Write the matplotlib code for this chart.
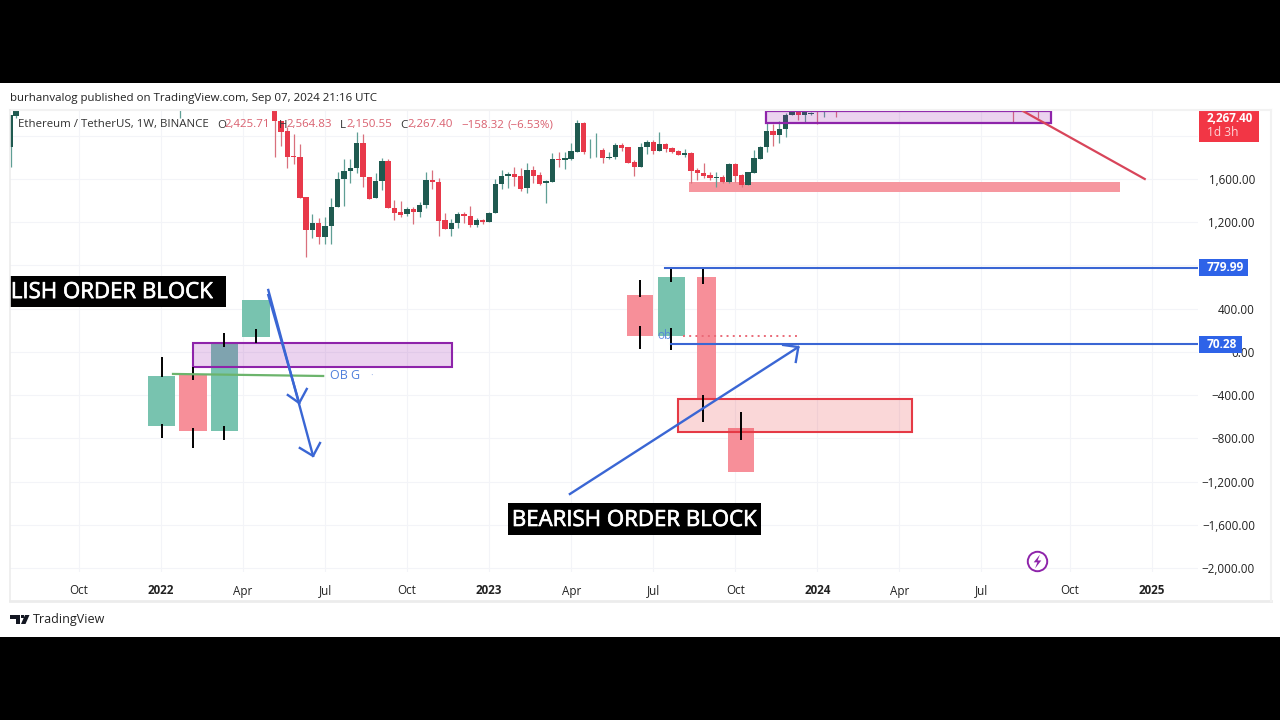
import matplotlib
matplotlib.use("Agg")
import matplotlib.pyplot as plt
import matplotlib.patheffects as pe
from matplotlib.patches import Rectangle, Polygon
from matplotlib.lines import Line2D

plt.rcParams['font.family'] = ['Open Sans', 'DejaVu Sans']

# weekly candles (x in weeks from Jan 2022)
weeks = [-23.85, -23, 3] + list(range(18, 106)) + [107, 135, 139]
opens = [1893,2186,2280,2300,2140,2044,1813,1804,1437,1125,1193,1066,1162,1341,1597,1671,1702,1933,1619,1421,1578,1767,1332,1298,1273,1325,1298,1359,
 1591,1575,1220,1134,1190,1276,1257,1177,1217,1199,1282,1550,1624,1643,1628,1513,1683,1637,1560,1575,1785,1773,1785,1853,2115,1865,1865,1868,1791,1800,1914,1896,1757,1714,1893,1942,1862,1924,1884,1859,1825,1844,1683,1655,1637,1612,1615,1572,1739,1634,1547,1658,1788,1893,2041,2010,2060,2189,2240,2195,2205,2240,2223,2260,2300,2300]
closes = [2192,2260,2400,2140,2038,1807,1807,1427,1125,1193,1066,1162,1341,1600,1674,1702,1933,1615,1418,1582,1767,1329,1288,1267,1322,1298,1359,1591,
 1571,1214,1134,1190,1273,1254,1177,1220,1199,1285,1554,1624,1646,1621,1507,1683,1628,1554,1581,1782,1779,1794,1859,2115,1850,1868,1868,1794,1800,1914,1890,1751,1714,1893,1945,1862,1924,1877,1853,1825,1837,1674,1652,1628,1612,1615,1572,1739,1628,1547,1662,1791,1896,2041,2007,2060,2192,2226,2192,2240,2208,2226,2229,2240,2250,2250]
highs = [2192,2300,2500,2400,2140,2084,2013,1921,1437,1273,1236,1251,1421,1662,1785,1785,2032,2013,1619,1652,1791,1785,1406,1396,1344,1344,1384,1662,
 1683,1606,1282,1227,1298,1298,1350,1236,1227,1291,1597,1683,1668,1708,1699,1745,1720,1668,1591,1837,1853,1853,1936,2146,2130,1967,2022,1890,1853,1930,1930,1896,1776,1936,1961,1961,2032,1936,1893,1868,1877,1853,1699,1745,1668,1668,1637,1751,1751,1646,1668,1868,1905,2115,2109,2140,2208,2300,2300,2300,2223,2300,2300,2300,2300,2300]
lows = [1714,2161,2161,1807,1908,1705,1742,1427,881,1051,1001,1001,1001,1341,1353,1560,1659,1529,1418,1421,1495,1329,1224,1251,1261,1187,1251,1329,
 1504,1075,1134,1075,1149,1196,1159,1153,1183,1199,1282,1504,1520,1535,1492,1467,1560,1544,1375,1575,1714,1689,1776,1853,1831,1791,1807,1745,1782,1782,1862,1745,1631,1708,1831,1831,1862,1853,1837,1819,1807,1566,1591,1606,1591,1529,1566,1566,1575,1523,1547,1658,1782,1853,1905,1936,1992,2189,2146,2127,2192,2106,2177,2177,2130,2161]

# pasted illustration candles: week, width, body top/bottom, upper wick, lower wick
pasted_week = [0.08, 5.07, 10.06, 15.06, 75.9, 80.9, 86.45, 91.9]
pasted_width = [4.28, 4.44, 4.28, 4.44, 4.12, 4.28, 3.0, 4.12]
pasted_top = [-223, -214, 92, 480, 526, 693, 693, -704]
pasted_bottom = [-686, -732, -732, 138, 147, 147, -445, -1111]
pasted_rising = [True, False, True, True, False, True, False, False]
wick_week = [0.08, 5.07, 10.06, 15.06, 75.9, 80.9, 85.9, 91.9]
wick_up_hi = [-47, -140, 175, 212, 665, 776, 767, -556]
wick_up_lo = [-232, -260, 45, 82, 508, 647, 628, -815]
wick_dn_hi = [-667, -704, -686, None, 240, 221, -399, None]
wick_dn_lo = [-797, -889, -815, None, 27, 18, -649, None]

# levels
level_top = 779.99
level_bottom = 70.28

# y and x axis
y_ticks = [-2000, -1600, -1200, -800, -400, 0, 400, 800, 1200, 1600, 2000]
y_labels = ['−2,000.00', '−1,600.00', '−1,200.00', '−800.00', '−400.00', '0.00', '400.00', '', '1,200.00', '1,600.00', '']
x_ticks = [-13, 0, 13, 26, 39, 52, 65, 78, 91, 104, 117, 130, 144, 157]
x_labels = ['Oct', '2022', 'Apr', 'Jul', 'Oct', '2023', 'Apr', 'Jul', 'Oct', '2024', 'Apr', 'Jul', 'Oct', '2025']

UP, DOWN = '#1f5a50', '#e8394a'
UPW, DOWNW = '#5f9f95', '#d9707d'
TEAL, SALMON = '#78c3af', '#f78f99'
BLUE = '#3a66d4'
PURPLE = '#8e24aa'

W, H = 1280, 720
fig = plt.figure(figsize=(W/100, H/100), dpi=100, facecolor='white')
ax = fig.add_axes([10/W, (H-572)/H, 1188/W, 462/H])
ax.set_xlim(-23.93, 164.34)
ax.set_ylim(-2036.8, 2238.5)
for s in ax.spines.values():
    s.set_visible(False)
ax.grid(True, color='#f3f4f8', lw=0.8)
ax.set_axisbelow(True)
ax.yaxis.tick_right()
ax.set_yticks(y_ticks, y_labels, ha='right', fontsize=8.4, color='#222222')
ax.tick_params(axis='y', pad=41, length=0)
ax.set_xticks(x_ticks, x_labels, fontsize=8.4, color='#222222')
ax.tick_params(axis='x', pad=9, length=0)
for lab, txt in zip(ax.get_xticklabels(), x_labels):
    if txt.isdigit():
        lab.set_fontweight('bold')

# drawings behind the candles
ax.add_patch(Rectangle((83.7, 1483), 68.3, 89, fc='#f6979f', ec='none', zorder=2))

# candles
for w, o, h, l, c in zip(weeks, opens, highs, lows, closes):
    up = c >= o
    ax.vlines(w, l, h, color=UPW if up else DOWNW, lw=0.9, zorder=3)
    ax.bar(w, abs(c-o), bottom=min(o, c), width=0.85, color=UP if up else DOWN, lw=0, zorder=4)

# drawings on the real chart
ax.add_patch(Rectangle((95.9, 2118), 45.1, 111, fc=(0.61, 0.15, 0.69, 0.2), ec=PURPLE, lw=1.6, zorder=5))
ax.plot([136.6, 155.9], [2229, 1600], color='#d8455a', lw=1.6, zorder=6)

# pasted candles
for w, wd, t, b, r in zip(pasted_week, pasted_width, pasted_top, pasted_bottom, pasted_rising):
    ax.bar(w, t-b, bottom=b, width=wd, color=TEAL if r else SALMON, lw=0, zorder=5)
for w, a, b, c, d in zip(wick_week, wick_up_hi, wick_up_lo, wick_dn_hi, wick_dn_lo):
    ax.plot([w, w], [a, b], color='black', lw=1.4, zorder=7, solid_capstyle='butt')
    if c is not None:
        ax.plot([w, w], [c, d], color='black', lw=1.4, zorder=7, solid_capstyle='butt')

# zones
ax.add_patch(Rectangle((5.02, -140), 41.08, 222, fc=(0.61, 0.15, 0.69, 0.2), ec=PURPLE, lw=1.5, zorder=6))
ax.add_patch(Rectangle((81.9, -741), 37.1, 305, fc=(0.90, 0.22, 0.25, 0.2), ec='#e53945', lw=1.5, zorder=6))

# lines
ax.plot([1.9, 25.7], [-204, -223], color='#6cb46c', lw=1.6, zorder=8)
ax.plot([79.9, 164.34], [level_top, level_top], color=BLUE, lw=1.5, zorder=8)
ax.plot([80.9, 164.34], [level_bottom, level_bottom], color=BLUE, lw=1.5, zorder=8)
ax.plot([82.7, 101], [151, 151], color='#ea6a78', lw=1.4, ls=(0, (1, 2.2)), zorder=8)
ax.text(26.8, -223, 'OB G', color='#4f7fdc', fontsize=9, va='center', zorder=9)
ax.text(33.1, -223, '·', color='#9db5e8', fontsize=7, va='center', zorder=9)
ax.text(78.6, 151, 'ob', color='#4f7fdc', fontsize=8.5, va='center', zorder=6.5, alpha=0.85)

# hand-drawn arrows
arrows = [
    ([17, 21.9], [526, -473], [20.1, 21.9, 23.1], [-399, -473, -343]),
    ([17, 24.1], [573, -963], [22, 24.1, 25.2], [-889, -963, -843]),
    ([64.8, 101], [-1315, 45], [98.6, 101, 100.6], [64, 45, -93]),
]
for lx, ly, hx, hy in arrows:
    ax.plot(lx, ly, color=BLUE, lw=1.7, zorder=10)
    ax.plot(hx, hy, color=BLUE, lw=1.7, zorder=10)

# black caption boxes
thick = [pe.withStroke(linewidth=0.5, foreground='white')]
ax.add_patch(Rectangle((-23.93, 415), 34.23, 287, fc='black', ec='none', zorder=11))
ax.text(-23.8, 549, 'LISH ORDER BLOCK', color='white', fontsize=16, va='center', zorder=12, path_effects=thick)
ax.add_patch(Rectangle((55, -1694), 40.1, 296, fc='black', ec='none', zorder=11))
ax.text(55.6, -1560, 'BEARISH ORDER BLOCK', color='white', fontsize=16, va='center', zorder=12, path_effects=thick)

# lightning badge
bolt = [(0.35, 1), (-0.55, -0.12), (-0.02, -0.12), (-0.35, -1), (0.55, 0.15), (0.02, 0.15)]
ax.plot([138.9], [-1935], 'o', ms=14, mfc='white', mec=PURPLE, mew=1.4, zorder=9)
ax.plot([138.9], [-1935], marker=bolt, ms=10, mfc=PURPLE, mec='none', zorder=10)

# price labels
tr = ax.get_yaxis_transform()
for val, txt, bw in [(level_top, '779.99', 0.04125), (level_bottom, '70.28', 0.0362)]:
    ax.add_patch(Rectangle((1.00084, val-76), bw, 152, transform=tr, fc='#2e63e8', ec='none', clip_on=False, zorder=20))
    ax.text(1.00758, val, txt, transform=tr, color='white', fontsize=8.6, fontweight='bold', ha='left', va='center',
            clip_on=False, zorder=21)

# red live price box
fig.add_artist(Rectangle((1199/W, (H-142)/H), 60/W, 31/H, transform=fig.transFigure, fc='#f23645', ec='none'))
fig.text(1253/W, (H-118)/H, '2,267.40', color='white', fontsize=8.4, fontweight='bold', ha='right', va='center')
fig.text(1207/W, (H-133)/H, '1d 3h', color='#fdd5d8', fontsize=8.6, ha='left', va='center')

# header and legend
fig.text(10/W, (H-98)/H, 'burhanvalog published on TradingView.com, Sep 07, 2024 21:16 UTC',
         fontsize=8.25, color='#222222', va='center')
LC = '#d9606f'
for x, t, c in [(18, 'Ethereum / TetherUS, 1W, BINANCE', '#333333'), (217, 'O', '#333333'), (224, '2,425.71', LC),
                (279, 'H', '#333333'), (286, '2,564.83', LC), (340, 'L', '#333333'), (346, '2,150.55', LC),
                (400, 'C', '#333333'), (407, '2,267.40', LC), (461, '−158.32', LC), (507, '(−6.53%)', LC)]:
    fig.text(x/W, (H-125)/H, t, fontsize=8.25, color=c, va='center', zorder=30)

# outer frame
frame = '#ececec'
fig.add_artist(Line2D([10/W, 1271/W], [(H-109.5)/H]*2, color='#f2f2f2', lw=1.5))
fig.add_artist(Line2D([10/W, 1271/W], [(H-601)/H]*2, color=frame, lw=2))
fig.add_artist(Line2D([9.5/W, 9.5/W], [(H-110)/H, (H-601)/H], color=frame, lw=1.2))
fig.add_artist(Line2D([1271/W, 1271/W], [(H-110)/H, (H-601)/H], color='#f2f2f2', lw=1.5))

# footer logo and name
def P(x, y):
    return (x/W, (H-y)/H)
fig.add_artist(Polygon([P(10, 615), P(20, 615), P(20, 624), P(15.5, 624), P(15.5, 619), P(10, 619)],
                       transform=fig.transFigure, fc='#131722', ec='none'))
fig.add_artist(Polygon([P(25, 615), P(29.5, 615), P(25.5, 624), P(21, 624)],
                       transform=fig.transFigure, fc='#131722', ec='none'))
fig.add_artist(Polygon([P(21, 615), P(24, 615), P(24, 618), P(21, 618)],
                       transform=fig.transFigure, fc='#131722', ec='none'))
fig.text(33/W, (H-619)/H, 'TradingView', fontsize=9, color='#222222', va='center')

# black letterbox
fig.add_artist(Rectangle((0, (H-83)/H), 1, 83/H, transform=fig.transFigure, fc='black', ec='none'))
fig.add_artist(Rectangle((0, 0), 1, (H-637)/H, transform=fig.transFigure, fc='black', ec='none'))

fig.savefig('out.png', dpi=100)
